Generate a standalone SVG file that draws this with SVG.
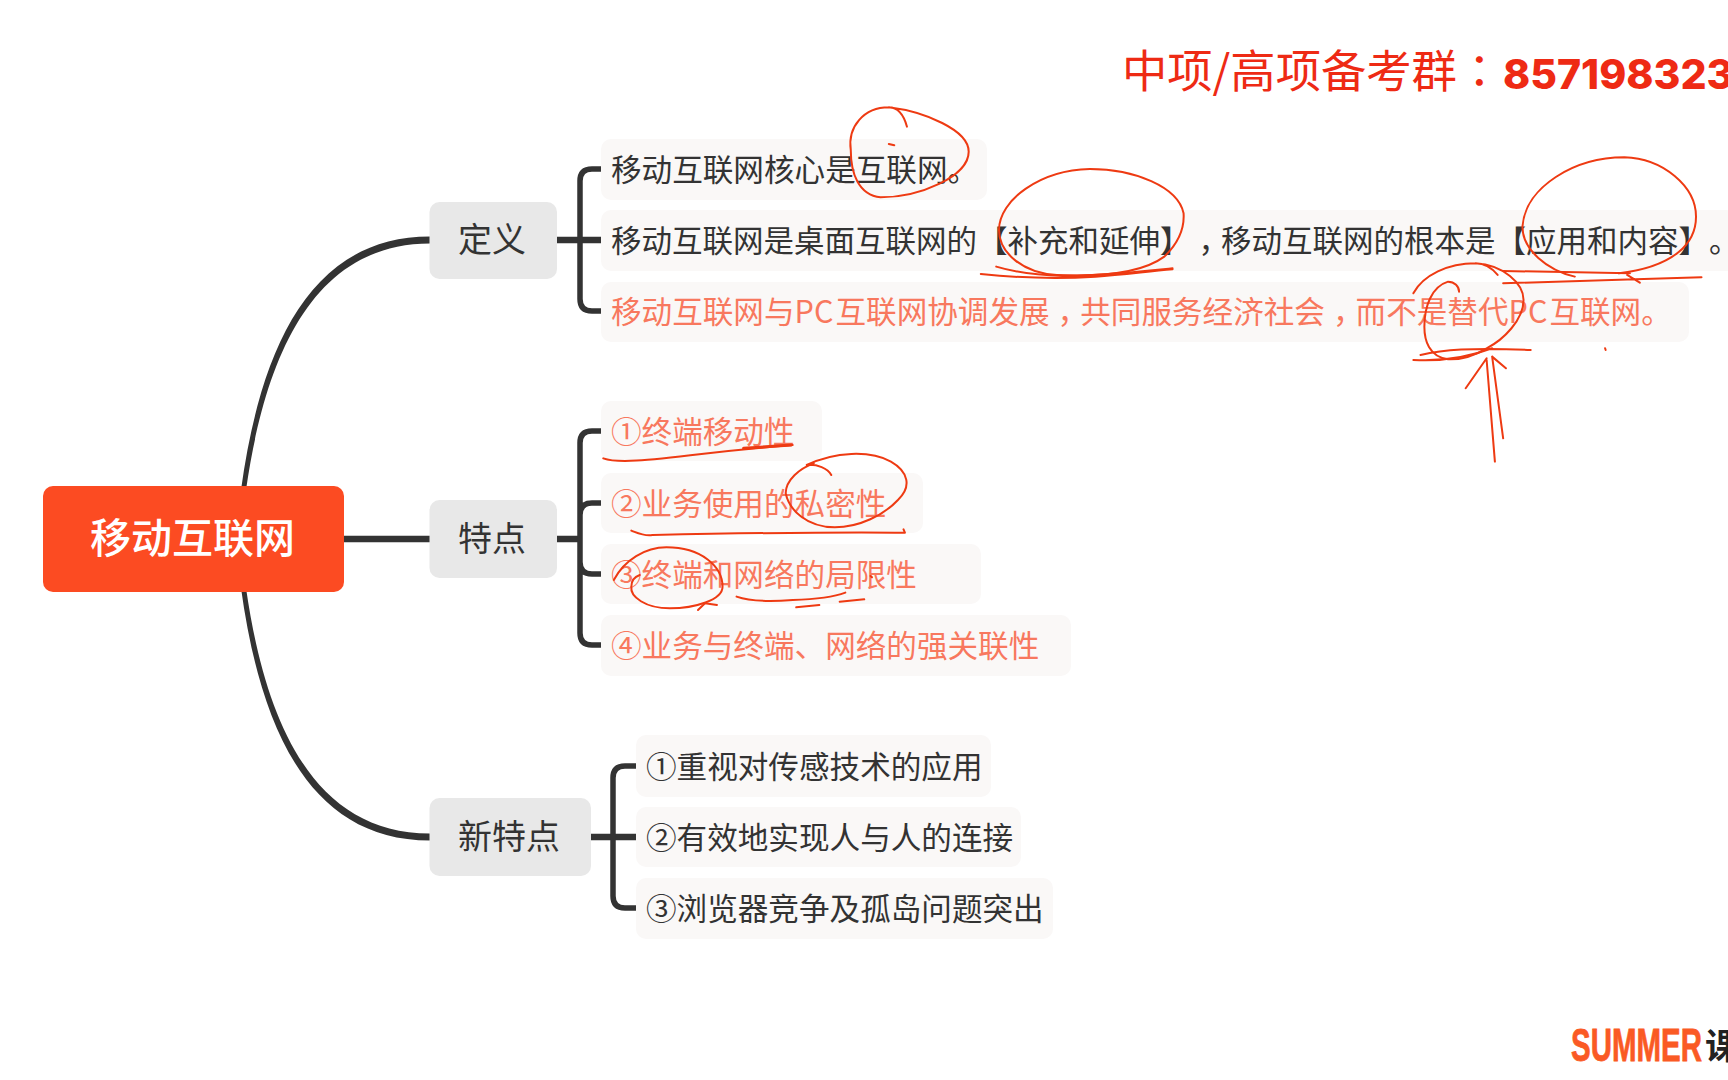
<svg xmlns="http://www.w3.org/2000/svg" width="1728" height="1080" viewBox="0 0 1728 1080">
<style>
text{font-family:"Noto Sans CJK SC","Noto Sans",sans-serif;text-spacing-trim:space-all;}
.sub{fill:#faf8f7;}
.topic{fill:#e8e8e8;}
.t{font-size:30.6px;fill:#333;}
.r{font-size:30.6px;fill:#f8785e;}
.tt{font-size:34px;fill:#333;text-anchor:middle;}
.main{fill:#333;stroke:none;}
.br{fill:none;stroke:#333;stroke-width:5.5;}
.stem{fill:none;stroke:#333;stroke-width:6.5;}
.ink path{fill:none;stroke:#ee3a12;stroke-width:2;stroke-linecap:round;stroke-linejoin:round;vector-effect:non-scaling-stroke;}
</style>
<rect width="1728" height="1080" fill="#fff"/>
<g id="connectors">
<path class="main" d="M241,490C260,352 308,236.5 430,236.5V243.5C312,243.5 265,358 246,490Z"/>
<path class="main" d="M241,588C260,726 308,840.5 430,840.5V833.5C312,833.5 265,720 246,588Z"/>
<path class="stem" d="M344,539H430"/>
<path class="stem" d="M557,240H601M557,539H580M591,837H636"/>
<path class="br" d="M601,169H592Q580,169 580,181V299Q580,311 592,311H601"/>
<path class="br" d="M601,431H592Q580,431 580,443V633Q580,645 592,645H601M601,503H592Q580,503 580,515M601,574H592Q580,574 580,562"/>
<path class="br" d="M636,766H625Q613,766 613,778V896Q613,908 625,908H636"/>
</g>
<g id="root"><rect x="43" y="486" width="301" height="106" rx="10" fill="#fc4b22"/><text x="192.500" y="553" font-weight="500" fill="#fff" text-anchor="middle" style="font-size:41px">移动互联网</text></g>
<g id="topic-def"><rect class="topic" x="429.500" y="202" width="127.500" height="77" rx="10"/><text class="tt" x="492" y="252">定义</text></g>
<g id="topic-feat"><rect class="topic" x="429.500" y="500" width="127.500" height="78" rx="10"/><text class="tt" x="492" y="551">特点</text></g>
<g id="topic-new"><rect class="topic" x="429.500" y="798" width="161.500" height="78" rx="10"/><text class="tt" x="509" y="849">新特点</text></g>
<g id="def-1"><rect class="sub" x="601" y="139" width="386" height="61" rx="10"/><text class="t" x="611" y="181">移动互联网核心是互联网。</text></g>
<g id="def-2"><rect class="sub" x="601" y="210" width="1135" height="61" rx="10"/><text class="t" x="611" y="252" style="font-size:30.5px">移动互联网是桌面互联网的【补充和延伸】<tspan dx="8">，</tspan><tspan dx="-8">移</tspan>动互联网的根本是【应用和内容】。</text></g>
<g id="def-3"><rect class="sub" x="601" y="282" width="1088" height="60" rx="10"/><text class="r" x="611" y="323">移动互联网与PC<tspan dx="2">互</tspan>联网协调发展<tspan dx="8">，</tspan><tspan dx="-8">共</tspan>同服务经济社会<tspan dx="8">，</tspan><tspan dx="-8">而</tspan>不是替代PC<tspan dx="2">互</tspan>联网。</text></g>
<g id="feat-1"><rect class="sub" x="601" y="401" width="221" height="60" rx="10"/><text class="r" x="611" y="443">①终端移动性</text></g>
<g id="feat-2"><rect class="sub" x="601" y="473" width="322" height="60" rx="10"/><text class="r" x="611" y="515">②业务使用的私密性</text></g>
<g id="feat-3"><rect class="sub" x="601" y="544" width="380" height="60" rx="10"/><text class="r" x="611" y="586">③终端和网络的局限性</text></g>
<g id="feat-4"><rect class="sub" x="601" y="615" width="470" height="61" rx="10"/><text class="r" x="611" y="657">④业务与终端、网络的强关联性</text></g>
<g id="new-1"><rect class="sub" x="636" y="735" width="355" height="62" rx="10"/><text class="t" x="646" y="778">①重视对传感技术的应用</text></g>
<g id="new-2"><rect class="sub" x="636" y="807" width="385" height="60" rx="10"/><text class="t" x="646" y="849">②有效地实现人与人的连接</text></g>
<g id="new-3"><rect class="sub" x="636" y="878" width="417" height="61" rx="10"/><text class="t" x="646" y="920">③浏览器竞争及孤岛问题突出</text></g>
<g id="title"><text x="1122" y="88" style="font-size:45.300px" fill="#ee2a14">中项/高项备考群<tspan style="font-family:'Noto Sans CJK TC',sans-serif">：</tspan></text><text x="1503" y="89" style="font-family:Inter,'Liberation Sans',sans-serif;font-size:41px;font-weight:800" fill="#ee2a14">857198323</text></g>
<g id="logo"><text x="1571" y="1061" textLength="131" lengthAdjust="spacingAndGlyphs" stroke="#fa5a24" stroke-width="0.800" style="font-family:'Liberation Sans',sans-serif;font-size:46px;font-weight:700" fill="#fa5a24">SUMMER</text><text x="1705" y="1059" style="font-size:35px;font-weight:700" fill="#222">课</text></g>
<g class="ink" transform="translate(864,0) scale(0.551,0.3333)">
<path d="M78,380C72,345 62,322 45,322C0,322 -30,380 -24,450C-24,520 -10,585 30,592C100,592 190,530 190,455C190,390 110,335 45,322"/>
<path d="M45,432L55,436"/>
<path d="M545,770C570,730 582,690 580,640C570,560 490,507 410,507C320,510 245,600 245,690C245,760 290,820 350,825C420,830 500,825 545,770"/>
<path d="M212,822C270,832 350,838 420,830C470,825 510,815 560,808M240,800C270,815 310,825 360,828C430,828 500,815 560,805"/>
<path d="M1290,830C1240,810 1195,750 1195,680C1200,560 1290,472 1380,472C1450,475 1510,560 1510,650C1510,730 1470,800 1370,820"/>
<path d="M1160,813L1390,820M1160,850C1280,843 1400,838 1520,832M1385,825L1408,848"/>
<path d="M1150,825C1140,805 1125,790 1110,790C1060,790 1015,825 997,880M1110,790C1160,795 1197,850 1197,900C1197,960 1160,1020 1130,1045C1110,1065 1085,1080 1060,1078C1025,1070 1017,1020 1017,980C1017,920 1030,860 1060,845C1072,845 1080,860 1080,875"/>
<path d="M1010,1065C1050,1050 1100,1042 1210,1050M997,1080C1050,1085 1100,1070 1140,1045"/>
<path d="M1145,1385L1130,1080M1160,1315L1140,1070M1092,1165L1130,1075M1140,1070L1165,1105M1345,1045L1346,1050"/>
</g>
<g class="ink" transform="translate(0,390) scale(0.7015,0.3333)">
<path d="M860,205C880,220 920,212 1000,192C1050,180 1090,172 1130,165"/>
<path d="M1060,175L1128,165" style="stroke-width:3"/>
<path d="M1185,255C1180,235 1165,222 1150,225C1190,185 1240,180 1270,215C1295,245 1300,290 1280,330C1260,375 1225,412 1190,412C1150,412 1125,360 1120,310C1120,270 1140,235 1160,220"/>
<path d="M900,422C910,430 920,440 930,435C1050,430 1180,425 1290,428L1288,418"/>
<path d="M875,570C890,510 920,472 950,472C1000,472 1030,530 1030,590C1030,630 990,655 955,655C920,655 898,620 900,590C900,570 905,560 912,555"/>
<path d="M995,660L1005,640L1022,645"/>
<path d="M1050,620C1070,635 1100,635 1130,630C1160,628 1190,620 1205,608M1135,652L1168,645M1197,635L1232,628M1241,558L1243,562"/>
</g>
</svg>
